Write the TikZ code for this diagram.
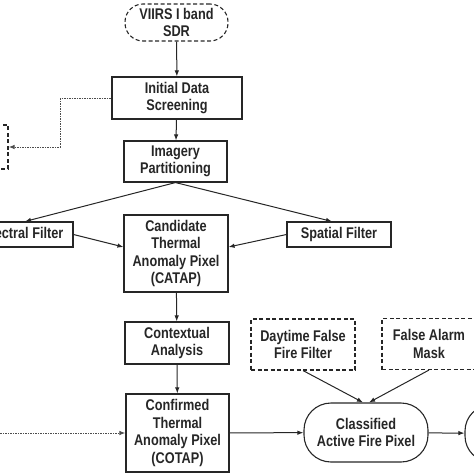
\documentclass[tikz,border=0pt]{standalone}
\usepackage{fontspec}
\setmainfont{Liberation Sans}[FakeStretch=0.82]
\usetikzlibrary{arrows.meta}
\begin{document}
\begin{tikzpicture}[x=1pt,y=-1pt,
  every node/.style={font=\fontsize{15.5}{17.5}\selectfont\bfseries, text=black!85, align=center, inner sep=0pt},
  box/.style={draw=black!85, line width=1.1pt, minimum width=#1},
  dbox/.style={box=#1, dash pattern=on 4pt off 2.5pt},
  arr/.style={draw=black!85, line width=1pt, -{Latex[length=6pt,width=4.5pt]}},
  dotarr/.style={draw=black!70, line width=1pt, dash pattern=on 2pt off 1pt on 1pt off 1pt, -{Latex[length=6pt,width=4.5pt]}},
  dotline/.style={draw=black!70, line width=1pt, dash pattern=on 2pt off 1pt on 1pt off 1pt}
]
\path[use as bounding box, clip] (0,0) rectangle (474,474);

\node[dbox=103pt, minimum height=37pt, rounded corners=18pt] (viirs) at (176.5,22.5) {VIIRS I band\\SDR};
\node[box=130pt, minimum height=42pt] (init) at (177,98) {Initial Data\\Screening};
\node[dbox=104pt, minimum height=44pt] (left) at (-44,147) {};
\node[box=103pt, minimum height=41pt] (img) at (175.5,161.5) {Imagery\\Partitioning};
\node[box=104pt, minimum height=25pt] (spec) at (21,234.5) {Spectral Filter};
\node[box=104pt, minimum height=25pt] (spat) at (339,234.5) {Spatial Filter};
\node[box=104pt, minimum height=77pt] (cand) at (176,253.5) {Candidate\\Thermal\\Anomaly Pixel\\(CATAP)};
\node[box=104pt, minimum height=42pt] (ctx) at (177,343) {Contextual\\Analysis};
\node[box=103pt, minimum height=78pt] (conf) at (177.5,433) {Confirmed\\Thermal\\Anomaly Pixel\\(COTAP)};
\node[dbox=104pt, minimum height=51pt] (day) at (303,344.5) {Daytime False\\Fire Filter};
\node[dbox=94pt, minimum height=51pt] (fa) at (429,344) {False Alarm\\Mask};
\node[box=124pt, minimum height=59pt, rounded corners=27pt] (cls) at (366,432.5) {Classified\\Active Fire Pixel};
\node[box=110pt, minimum height=57pt, rounded corners=26pt] (out) at (520,433.5) {};
\coordinate (lin) at (-10,433);
\coordinate (bend) at (60,98);

\draw[arr] (viirs) -- (init);
\draw[arr] (init) -- (img);
\draw[dotline] (init.west) -- (bend);
\draw[dotarr] (bend) |- (left.east);
\draw[arr] (img.south) -- ([xshift=4pt]spec.north);
\draw[arr] (img.south) -- ([xshift=-7pt]spat.north);
\draw[arr] (spec.east) -- ([yshift=6.5pt]cand.west);
\draw[arr] (spat.west) -- ([yshift=6.5pt]cand.east);
\draw[arr] (cand) -- (ctx);
\draw[arr] (ctx) -- (conf);
\draw[dotarr] (lin) -- (conf.west);
\draw[arr] (conf) -- (cls);
\draw[arr] (day.south) -- ([xshift=-3pt]cls.north);
\draw[arr] (fa.south) -- ([xshift=3pt]cls.north);
\draw[arr] (cls) -- (out);
\end{tikzpicture}
\end{document}
